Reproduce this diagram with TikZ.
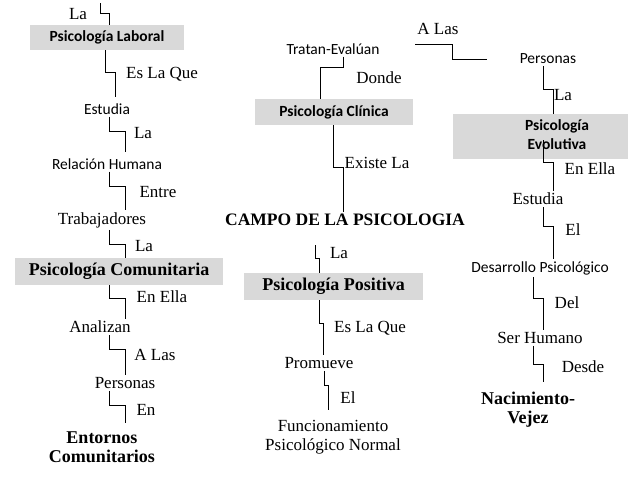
\documentclass[tikz,border=0pt]{standalone}
\usepackage{fontspec}
\setmainfont{Liberation Serif}
\newfontfamily\calfont{Carlito}
\definecolor{boxgray}{RGB}{217,217,217}

\begin{document}
\begin{tikzpicture}[x=1pt, y=-1pt,
serifword/.style={font=\fontsize{17}{19}\selectfont, inner sep=2pt},
calword/.style={font=\calfont\fontsize{15.5}{19}\selectfont, inner sep=2pt},
boldword/.style={font=\bfseries\fontsize{18}{19}\selectfont, align=center, inner sep=2pt},
calbold/.style={font=\calfont\bfseries\fontsize{15.5}{19}\selectfont},
graynode/.style={rectangle, fill=boxgray, inner sep=0pt},
elbow/.style={line width=0.8pt},
]
\useasboundingbox (0,0) rectangle (638,479);

%Nodes (left)
\coordinate (top1) at (100,3);
\node[serifword]  (la1)   at (78,14)  {La};
\node[graynode, calbold, minimum width=154pt, minimum height=25pt] (lab) at (107,37.5) {Psicología Laboral};
\node[serifword]  (esla1) at (162,74) {Es La Que};
\node[calword]    (est)   at (107,109) {Estudia};
\node[serifword]  (la2)   at (143,133) {La};
\node[calword]    (relh)  at (107,164) {Relación Humana};
\node[serifword]  (entre) at (158,192) {Entre};
\node[serifword]  (trab)  at (102,220) {Trabajadores};
\node[serifword]  (la3)   at (144,246) {La};
\node[graynode, boldword, minimum width=208pt, minimum height=27pt] (comu) at (119,271.5) {Psicología Comunitaria};
\node[serifword]  (ella1) at (162,297) {En Ella};
\node[serifword]  (anal)  at (100,327) {Analizan};
\node[serifword]  (alas1) at (155,355) {A Las};
\node[serifword]  (pers)  at (125,383) {Personas};
\node[serifword]  (en1)   at (146,410) {En};
\node[boldword]   (ento)  at (102,447) {Entornos\\Comunitarios};

%Nodes (middle)
\node[calword]    (trat)  at (333,49) {Tratan-Evalúan};
\node[serifword]  (donde) at (379,78) {Donde};
\node[graynode, calbold, minimum width=158pt, minimum height=26pt] (clin) at (334,112) {Psicología Clínica};
\node[serifword]  (exis)  at (377,163) {Existe La};
\node[boldword, font=\bfseries\fontsize{17.5}{19}\selectfont] (campo) at (345,220) {CAMPO DE LA PSICOLOGIA};
\node[serifword]  (la4)   at (339,253) {La};
\node[graynode, boldword, minimum width=179pt, minimum height=27pt] (posi) at (333.5,286.5) {Psicología Positiva};
\node[serifword]  (esla2) at (370,328) {Es La Que};
\node[serifword]  (prom)  at (319,363) {Promueve};
\node[serifword]  (el1)   at (348,398) {El};
\node[serifword, align=center] (func) at (333,437) {Funcionamiento\\Psicológico Normal};

%Nodes (right)
\coordinate (alas) at (415,44);
\node[serifword]  (alas2) at (438,29) {A Las};
\node[calword]    (perR)  at (548,59) {Personas};
\node[serifword]  (la5)   at (563,95) {La};
\node[graynode, calbold, minimum width=175pt, minimum height=45pt] (evol) at (540.5,136.5) {\hspace*{33pt}\begin{tabular}{@{}c@{}}Psicología\\Evolutiva\end{tabular}};
\node[serifword]  (ella2) at (590,169) {En Ella};
\node[serifword]  (estR)  at (538,199) {Estudia};
\node[serifword]  (el2)   at (573,230) {El};
\node[calword]    (desa)  at (540,268) {Desarrollo Psicológico};
\node[serifword]  (del)   at (567,303) {Del};
\node[serifword]  (serh)  at (540,338) {Ser Humano};
\node[serifword]  (desde) at (583,367) {Desde};
\node[boldword]   (naci)  at (528,410) {Nacimiento-\\Vejez};

%Lines (left)
\draw[elbow] (top1) -- ++(0,10) -| ([xshift=2pt]lab.north);
\draw[elbow] ([xshift=-2pt]lab.south) -- ++(0,22) -| ([xshift=8pt,yshift=4pt]est.north);
\draw[elbow] ([xshift=2pt]est.south) -- ++(0,15) -| ([xshift=18pt,yshift=4pt]relh.north);
\draw[elbow] ([xshift=2pt]relh.south) -- ++(0,15) -| ([xshift=23pt]trab.north);
\draw[elbow] ([xshift=7pt]trab.south) -- ++(0,14) -| ([xshift=6pt]comu.north);
\draw[elbow] ([xshift=-10pt]comu.south) -- ++(0,13) -| ([xshift=25pt]anal.north);
\draw[elbow] ([xshift=9pt]anal.south) -- ++(0,14) -| (pers.north);
\draw[elbow] ([xshift=-16pt]pers.south) -- ++(0,15) -| ([xshift=23pt,yshift=6pt]ento.north);

%Lines (middle)
\draw[elbow] ([xshift=10pt]trat.south) -- ++(0,11) -| ([xshift=-14pt]clin.north);
\draw[elbow] ([xshift=-1pt]clin.south) -- ++(0,42) -| ([xshift=-2pt]campo.north);
\draw[elbow] ([xshift=-30pt,yshift=-17pt]campo.south) -- ++(0,13) -| ([xshift=-14.5pt]posi.north);
\draw[elbow] ([xshift=-14.5pt]posi.south) -- ++(0,23) -| ([xshift=4pt]prom.north);
\draw[elbow] ([xshift=5pt]prom.south) -- ++(0,15) -| ([xshift=-5pt,yshift=8pt]func.north);

%Lines (right)
\draw[elbow] (alas) -- ++(37,0) |- ([xshift=-31pt]perR.west);
\draw[elbow] ([xshift=-5pt]perR.south) -- ++(0,23) -| ([xshift=12.5pt]evol.north);
\draw[elbow] ([xshift=2.5pt,yshift=-3.5pt]evol.center) -- ++(0,22) -| ([xshift=15pt]estR.north);
\draw[elbow] ([xshift=5pt]estR.south) -- ++(0,19) -| ([xshift=13pt]desa.north);
\draw[elbow] ([xshift=-7pt]desa.south) -- ++(0,21) -| ([xshift=3pt]serh.north);
\draw[elbow] ([xshift=-7pt]serh.south) -- ++(0,18) -| ([xshift=15pt,yshift=8pt]naci.north);

\end{tikzpicture}
\end{document}
